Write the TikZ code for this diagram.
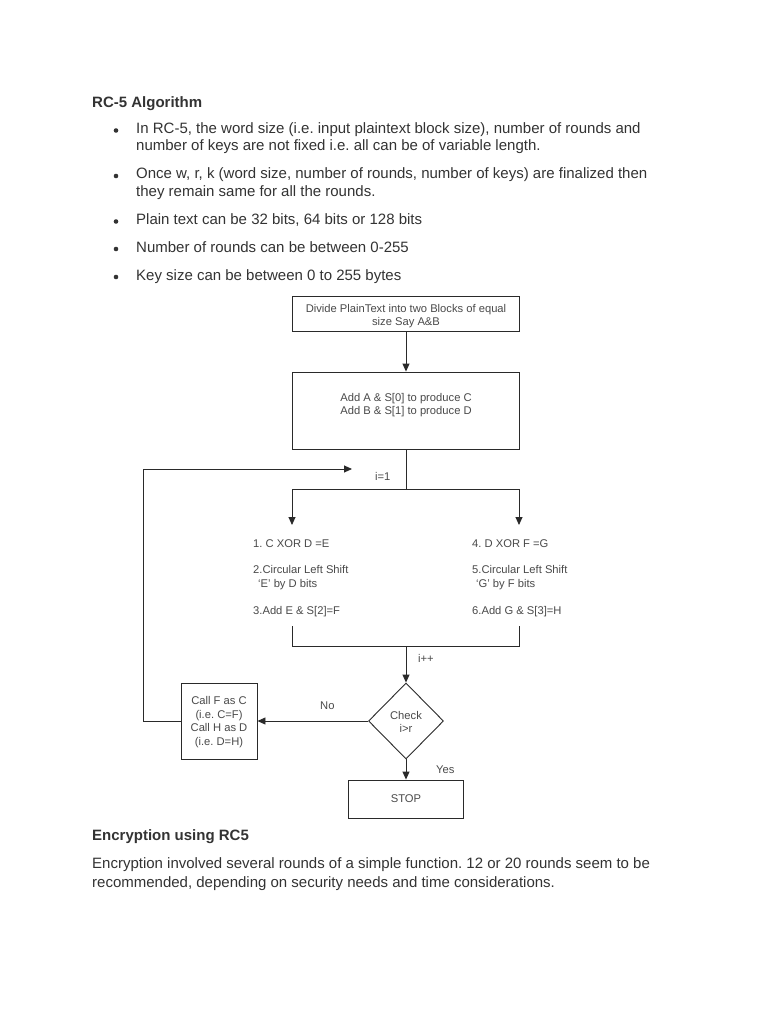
\documentclass[tikz,border=0pt]{standalone}
\usepackage{fontspec}
\setmainfont{Liberation Sans}
\usetikzlibrary{shapes.geometric,arrows.meta}
\frenchspacing
\definecolor{bodytxt}{HTML}{333333}
\definecolor{diagtxt}{HTML}{4A4A4A}
\definecolor{linec}{HTML}{2A2A2A}
\tikzset{
  body/.style={anchor=base west,inner sep=0pt,text=bodytxt,font=\fontsize{15}{17}\selectfont},
  head/.style={body,font=\fontsize{15}{17}\selectfont\bfseries},
  dtxt/.style={anchor=base west,inner sep=0pt,text=diagtxt,font=\fontsize{11.2}{13}\selectfont},
  ctxt/.style={inner sep=0pt,text=diagtxt,font=\fontsize{11.2}{13}\selectfont,align=center},
  boxs/.style={draw=linec,line width=0.9pt,rectangle,inner sep=0pt},
  conn/.style={draw=linec,line width=0.9pt},
  arr/.style={conn,-{Triangle[length=8pt,width=7pt]}},
  bul/.style={circle,fill=bodytxt,inner sep=0pt,minimum size=4.6pt}
}
\begin{document}
\begin{tikzpicture}[x=1pt,y=-1pt]
\useasboundingbox[fill=white] (0,0) rectangle (768,1024);
% header text
\node[head] (title) at (92,108) {RC-5 Algorithm};
\node[bul] (b1) at (116,130.5) {};
\node[body] (t1a) at (136,134) {In RC-5, the word size (i.e. input plaintext block size), number of rounds and};
\node[body] (t1b) at (136,151) {number of keys are not fixed i.e. all can be of variable length.};
\node[bul] (b2) at (116,176) {};
\node[body] (t2a) at (136,179) {Once w, r, k (word size, number of rounds, number of keys) are finalized then};
\node[body] (t2b) at (136,196.5) {they remain same for all the rounds.};
\node[bul] (b3) at (116,221.5) {};
\node[body] (t3) at (136,225) {Plain text can be 32 bits, 64 bits or 128 bits};
\node[bul] (b4) at (116,249) {};
\node[body] (t4) at (136,252.5) {Number of rounds can be between 0-255};
\node[bul] (b5) at (116,277) {};
\node[body] (t5) at (136,280.5) {Key size can be between 0 to 255 bytes};

% flowchart
\node[boxs,minimum width=227pt,minimum height=35pt] (box1) at (406,313.5) {};
\node[ctxt] (box1t) at (406,316) {Divide PlainText into two Blocks of equal\\size Say A\&B};
\node[boxs,minimum width=227pt,minimum height=77pt] (box2) at (406,410.5) {};
\node[ctxt] (box2t) at (406,405.5) {Add A \& S[0] to produce C\\Add B \& S[1] to produce D};
\draw[arr] (box1.south) -- (box2.north);

\coordinate (split) at (406,489);
\coordinate (sl) at (292,489);
\coordinate (sr) at (519,489);
\coordinate (lt) at (292,525);
\coordinate (rt) at (519,525);
\draw[conn] (box2.south) -- (split);
\draw[arr] (split) -- (sl) -- (lt);
\draw[arr] (split) -- (sr) -- (rt);
\node[dtxt] (i1) at (375,480) {i=1};

\node[dtxt] (l1) at (253,547) {1. C XOR D =E};
\node[dtxt] (l2) at (253,573) {2.Circular Left Shift};
\node[dtxt] (l3) at (258,587) {`E' by D bits};
\node[dtxt] (l4) at (253,614) {3.Add E \& S[2]=F};
\node[dtxt] (r1) at (472,547) {4. D XOR F =G};
\node[dtxt] (r2) at (472,573) {5.Circular Left Shift};
\node[dtxt] (r3) at (476,587) {`G' by F bits};
\node[dtxt] (r4) at (472,614) {6.Add G \& S[3]=H};

\coordinate (jl) at (292,626);
\coordinate (jr) at (519,626);
\coordinate (jbl) at (292,646);
\coordinate (jbr) at (519,646);
\coordinate (jm) at (406,646);
\draw[conn] (jl) -- (jbl) -- (jbr) -- (jr);
\node[dtxt] (ipp) at (418,662) {i++};

\node[draw=linec,line width=0.9pt,diamond,minimum width=75pt,minimum height=76pt,inner sep=0pt] (chk) at (406,721) {};
\node[ctxt] (chkt) at (406,722) {Check\\i>r};
\draw[arr] (jm) -- (chk.north);

\node[boxs,minimum width=76pt,minimum height=76pt] (call) at (219,721) {};
\node[ctxt,font=\fontsize{11.2}{13.5}\selectfont] (callt) at (219,722) {Call F as C\\(i.e. C=F)\\Call H as D\\(i.e. D=H)};
\draw[arr] (chk.west) -- (call.east);
\node[dtxt] (no) at (320,709) {No};

\node[boxs,minimum width=115pt,minimum height=38pt] (stop) at (406,799) {};
\node[ctxt] (stopt) at (406,799) {STOP};
\draw[arr] (chk.south) -- (stop.north);
\node[dtxt] (yes) at (436,773) {Yes};

\coordinate (fb1) at (143,721);
\coordinate (fb2) at (143,469);
\coordinate (fb3) at (352,469);
\draw[arr] (call.west) -- (fb1) -- (fb2) -- (fb3);

% footer text
\node[head] (enc) at (92,840) {Encryption using RC5};
\node[body] (p1) at (92,868) {Encryption involved several rounds of a simple function. 12 or 20 rounds seem to be};
\node[body] (p2) at (92,887) {recommended, depending on security needs and time considerations.};
\end{tikzpicture}
\end{document}
